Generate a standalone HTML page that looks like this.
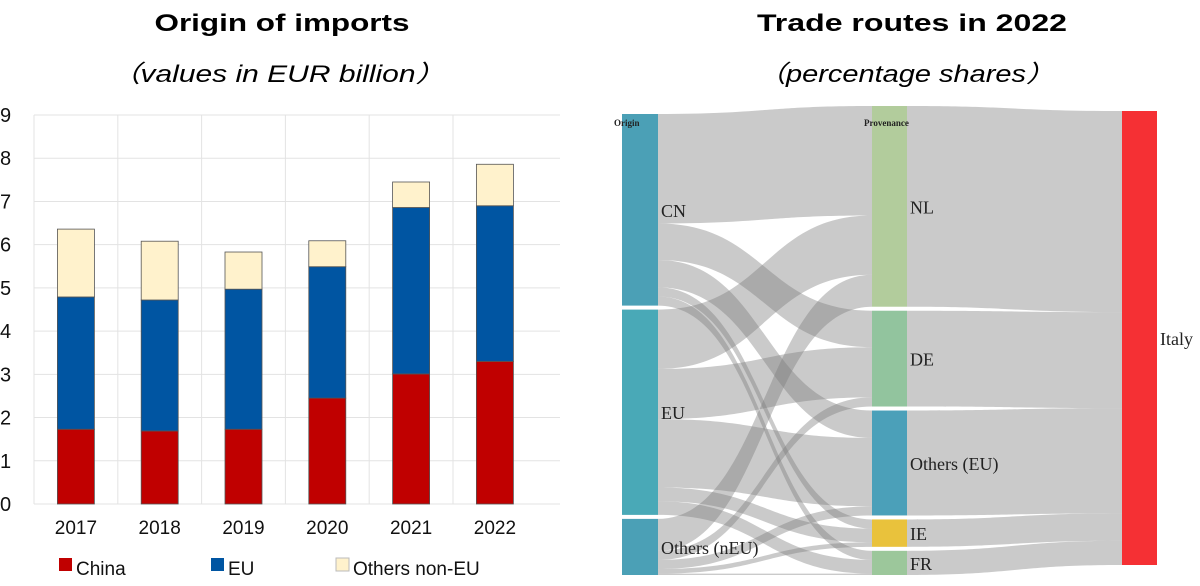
<!DOCTYPE html>
<html><head><meta charset="utf-8">
<style>
html,body{margin:0;padding:0;background:#fff;}
svg{display:block;font-family:"Liberation Sans","Noto Sans CJK JP",sans-serif;}
</style></head>
<body>
<svg id="root" width="1200" height="586" viewBox="0 0 1200 586">
  <g>
    <text x="282" y="31" text-anchor="middle" font-size="24" font-weight="bold" textLength="255" lengthAdjust="spacingAndGlyphs">Origin of imports</text>
    <text x="278" y="82" text-anchor="middle" font-size="24" font-style="italic" textLength="335" lengthAdjust="spacingAndGlyphs">（values in EUR billion）</text>
    <text x="912" y="31" text-anchor="middle" font-size="24" font-weight="bold" textLength="310" lengthAdjust="spacingAndGlyphs">Trade routes in 2022</text>
    <text x="906" y="82" text-anchor="middle" font-size="24" font-style="italic" textLength="298" lengthAdjust="spacingAndGlyphs">（percentage shares）</text>
  </g>
  <g id="bars"></g>
  <g id="sankey"></g>
</svg>
<script>
const years = ["2017","2018","2019","2020","2021","2022"];
const china = [1.73,1.69,1.73,2.45,3.01,3.30];
const eu = [3.06,3.03,3.24,3.04,3.85,3.60];
const othersNonEU = [1.57,1.36,0.86,0.60,0.59,0.96];
const yTicks = [0,1,2,3,4,5,6,7,8,9];

const originNodes = ["CN","EU","Others (nEU)"];
const provNodes = ["NL","DE","Others (EU)","IE","FR"];
const flowSource = [0,0,0,0,0, 1,1,1,1,1, 2,2,2,2,2];
const flowTarget = [0,1,2,3,4, 0,1,2,3,4, 0,1,2,3,4];
const flowValue  = [24,8,6,2,2, 13,11,15,3,3, 7,2,2,1,0.3];

const NS="http://www.w3.org/2000/svg";
function mk(tag,attrs,parent){const e=document.createElementNS(NS,tag);for(const k in attrs)e.setAttribute(k,attrs[k]);parent.appendChild(e);return e;}

// ---- bar chart ----
(function(){
  const g=document.getElementById('bars');
  const left=34, right=560, y0=504, y9=115;
  const step=83.8, bw=37;
  const yS=v=>y0-(y0-y9)*v/9;
  const xC=i=>left+step*(i+0.5);
  yTicks.forEach(t=>{
    const l=mk('line',{x1:left,x2:right,y1:yS(t),y2:yS(t),stroke:'#e3e3e3','stroke-width':1},g);
    
    
    const tx=mk('text',{x:0,y:yS(t)+7,'font-size':20,fill:'#111'},g);
    tx.textContent=t;
    
    
  });
  for(let i=0;i<6;i++){
    const l=mk('line',{x1:left+step*i,x2:left+step*i,y1:y9,y2:y0,stroke:'#e3e3e3','stroke-width':1},g);
    
    
  }
  const series=[[china,'#c00000'],[eu,'#0055a2'],[othersNonEU,'#fff2cc']];
  years.forEach((yr,i)=>{
    let base=0;
    series.forEach(([arr,col],si)=>{
      const v=arr[i];
      const r=mk('rect',{x:xC(i)-bw/2,y:yS(base+v),width:bw,height:yS(base)-yS(base+v),fill:col,stroke:'#555','stroke-width':0.8},g);
      
      
      base+=v;
    });
    const tx=mk('text',{x:xC(i),y:534,'font-size':19,'text-anchor':'middle',fill:'#111'},g);
    tx.textContent=yr;
    
    
  });
  const leg=[["China","#c00000",59],["EU","#0055a2",211],["Others non-EU","#fff2cc",336]];
  leg.forEach(([n,c,x])=>{
    const r=mk('rect',{x:x,y:558,width:13,height:13,fill:c,stroke:c==='#fff2cc'?'#bbb':'none'},g);
    
    
    const t=mk('text',{x:x+17,y:575,'font-size':19,fill:'#111'},g);
    t.textContent=n;
    
    
  });
})();

// ---- sankey ----
(function(){
  const g=document.getElementById('sankey');
  const top=114, bottom=575, gap=4;
  const ox0=622, ox1=658, px0=872, px1=907, ix0=1122, ix1=1157;
  const nO=originNodes.length, nP=provNodes.length;
  const oTot=originNodes.map((_,i)=>flowValue.reduce((s,v,k)=>s+(flowSource[k]===i?v:0),0));
  const pTot=provNodes.map((_,i)=>flowValue.reduce((s,v,k)=>s+(flowTarget[k]===i?v:0),0));
  const total=oTot.reduce((a,b)=>a+b,0);
  const k=(bottom-top-gap*(nO-1))/total;
  const pTop=bottom-k*total-gap*(nP-1);
  const oY=[];let y=top;oTot.forEach(v=>{oY.push(y);y+=v*k+gap;});
  const pY=[];y=pTop;pTot.forEach(v=>{pY.push(y);y+=v*k+gap;});
  const iTop=111, iH=454, ik=iH/total;
  const flows=mk('g',{},g);
  
  
  function band(x0,a0,b0,x1,a1,b1,name){
    const m=(x0+x1)/2;
    const d=`M${x0},${a0} C${m},${a0} ${m},${a1} ${x1},${a1} L${x1},${b1} C${m},${b1} ${m},${b0} ${x0},${b0} Z`;
    const p=mk('path',{d:d,fill:'#7a7a7a','fill-opacity':0.4},flows);
    
    
  }
  const oOff=oY.slice();
  const tOff=pY.slice();
  const srcStart=[];
  for(let f=0;f<flowValue.length;f++){
    const s=flowSource[f],h=flowValue[f]*k;
    srcStart[f]=oOff[s];oOff[s]+=h;
  }
  for(let s=0;s<nO;s++){
    for(let f=0;f<flowValue.length;f++){
      if(flowSource[f]!==s)continue;
      const t=flowTarget[f],h=flowValue[f]*k;
      const a1=tOff[t];tOff[t]+=h;
      band(ox1,srcStart[f],srcStart[f]+h,px0,a1,a1+h,'flow-'+originNodes[s]+'-'+provNodes[t]);
    }
  }
  let iy=iTop;
  provNodes.forEach((n,i)=>{
    const h=pTot[i]*k, ih=pTot[i]*ik;
    band(px1,pY[i],pY[i]+h,ix0,iy,iy+ih,'flow-'+n+'-italy');
    iy+=ih;
  });
  const oCols=['#4ba0b6','#49a9b7','#4ba0b6'];
  originNodes.forEach((n,i)=>{
    const r=mk('rect',{x:ox0,y:oY[i],width:ox1-ox0,height:oTot[i]*k,fill:oCols[i]},g);
    
    
    const t=mk('text',{x:ox1+3,y:oY[i]+oTot[i]*k/2+7,'font-size':18,'font-family':'Liberation Serif, serif',fill:'#222'},g);
    t.textContent=n;
    
    
  });
  const pCols=['#b2cc9c','#92c49e','#4ba0b9','#e9c23c','#9cc79b'];
  provNodes.forEach((n,i)=>{
    const r=mk('rect',{x:px0,y:pY[i],width:px1-px0,height:pTot[i]*k,fill:pCols[i]},g);
    
    
    const t=mk('text',{x:px1+3,y:pY[i]+pTot[i]*k/2+7,'font-size':18,'font-family':'Liberation Serif, serif',fill:'#222'},g);
    t.textContent=n;
    
    
  });
  const it=mk('rect',{x:ix0,y:iTop,width:ix1-ix0,height:iH,fill:'#f53034'},g);
  
  
  const itl=mk('text',{x:ix1+3,y:iTop+iH/2+7,'font-size':18,'font-family':'Liberation Serif, serif',fill:'#222'},g);
  itl.textContent='Italy';
  
  
  const h1=mk('text',{x:614,y:126,'font-size':9,'font-weight':'bold','font-family':'Liberation Serif, serif',fill:'#222'},g);
  h1.textContent='Origin';
  
  
  const h2=mk('text',{x:864,y:126,'font-size':9,'font-weight':'bold','font-family':'Liberation Serif, serif',fill:'#222'},g);
  h2.textContent='Provenance';
  
  
})();
</script>
</body></html>
